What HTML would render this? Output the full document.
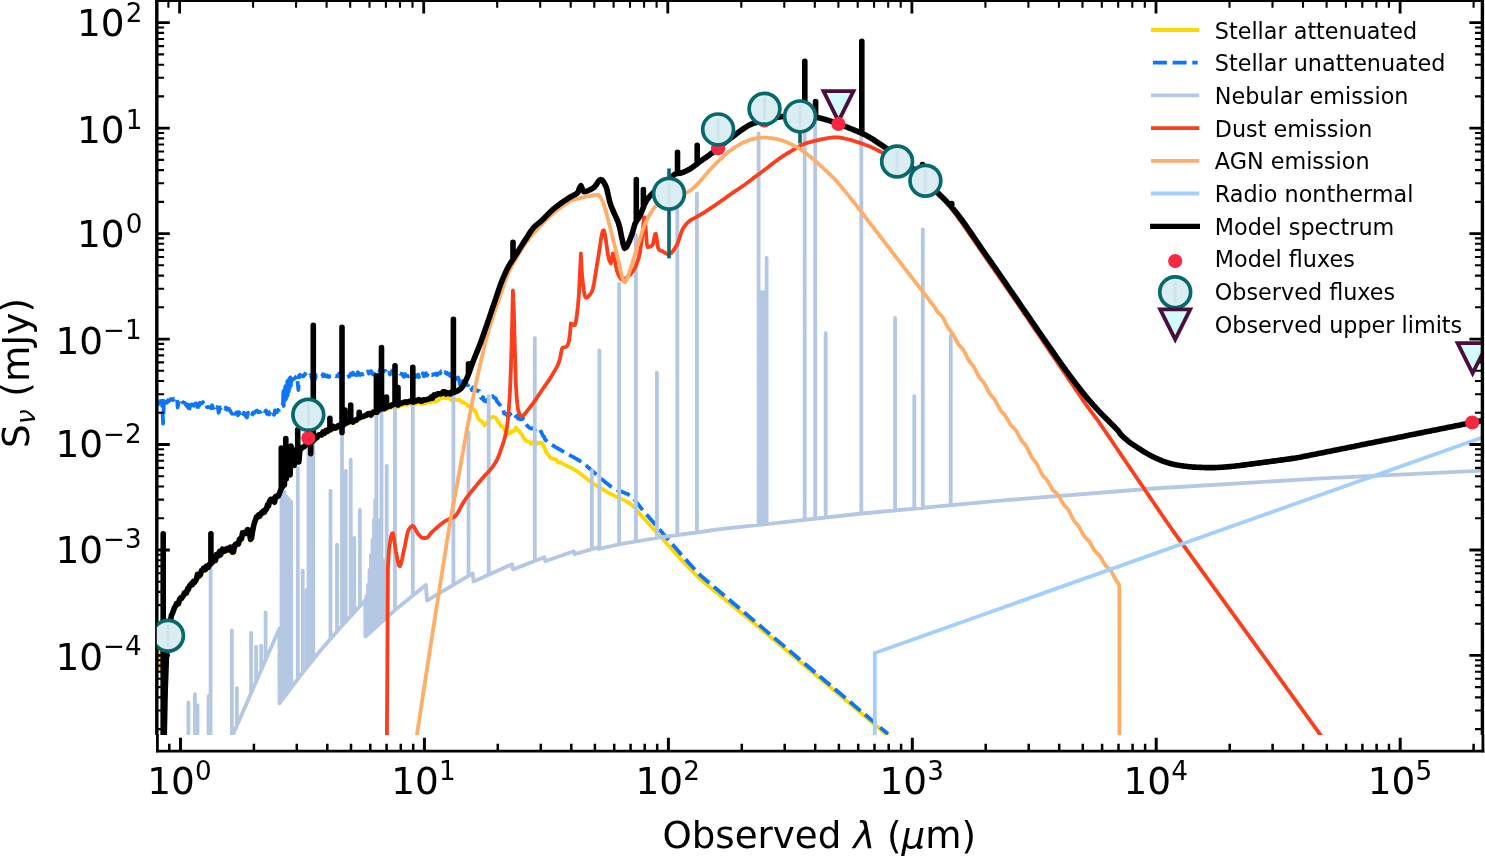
<!DOCTYPE html>
<html lang="en"><head><meta charset="utf-8"><title>SED</title><style>html,body{margin:0;padding:0;background:#fff;overflow:hidden}svg{display:block}</style></head><body>
<svg width="1485" height="856" viewBox="0 0 1485 856" font-family="'DejaVu Sans', 'Liberation Sans', sans-serif">
<rect width="1485" height="856" fill="#fff"/>
<defs><clipPath id="ax"><rect x="156.8" y="0.2" width="1325.6000000000001" height="734.8"/></clipPath></defs>
<g clip-path="url(#ax)" fill="none" stroke-linejoin="round" stroke-linecap="butt">
<path d="M160.0,650.0 L160.2,672.0" stroke="#FFD700" stroke-width="3.8"/>
<path d="M171.5,616.3 L172.5,614.6 L173.5,611.7 L174.5,608.8 L175.5,607.6 L176.5,604.9 L177.5,604.7 L178.5,605.0 L179.5,600.8 L180.5,599.2 L181.5,599.6 L182.5,598.2 L183.5,596.7 L184.5,594.1 L185.5,594.4 L186.5,594.3 L187.5,590.2 L188.5,590.4 L189.5,587.1 L190.5,586.8 L191.5,584.7 L192.5,585.7 L193.5,582.7 L194.5,583.6 L195.5,582.2 L196.5,580.4 L197.5,575.7 L198.5,577.5 L199.5,577.0 L200.5,575.9 L201.5,571.8 L202.5,571.8 L203.5,569.7 L204.5,569.0 L205.5,570.9 L206.5,567.3 L207.5,567.8 L208.5,568.4 L209.5,565.4 L210.5,565.2 L211.5,564.5 L212.5,563.4 L213.5,560.3 L214.5,561.0 L215.5,561.7 L216.5,555.8 L217.5,557.8 L218.5,555.2 L219.5,552.8 L220.5,556.1 L221.5,553.7 L222.5,550.4 L223.5,552.0 L224.5,552.4 L225.5,550.8 L226.5,551.5 L227.5,549.8 L228.5,550.4 L229.5,551.2 L230.5,548.4 L231.5,552.2 L232.5,553.4 L233.5,553.1 L234.5,547.0 L235.5,545.6 L236.5,545.0 L237.5,545.7 L238.5,545.1 L239.5,540.4 L240.5,539.8 L241.5,540.1 L242.5,534.2 L243.5,534.6 L244.5,533.7 L245.5,534.7 L246.5,533.0 L247.5,530.9 L248.5,531.2 L249.5,534.3 L250.5,540.6 L251.5,539.6 L252.5,533.0 L253.5,527.7 L254.5,523.8 L255.5,521.4 L256.5,518.2 L257.5,518.3 L258.5,516.3 L259.5,517.6 L260.5,515.8 L261.5,514.0 L262.5,514.3 L263.5,512.1 L264.5,513.3 L265.5,510.8 L266.5,510.4 L267.5,506.2 L268.5,507.1 L269.5,502.6 L270.5,500.8 L271.5,502.3 L272.5,500.5 L273.5,501.3 L274.5,503.5 L275.5,498.0 L276.5,497.4 L277.5,497.7 L278.5,497.0 L279.5,494.5 L280.5,491.7" stroke="#FFD700" stroke-width="3.8"/>
<path d="M300.5,451.0 L302.0,448.5 L303.5,448.1 L305.0,447.0 L306.5,445.1 L308.0,445.1 L309.5,443.3 L311.0,443.8 L312.5,442.1 L314.0,441.0 L315.5,439.3 L317.0,438.6 L318.5,436.0 L320.0,435.7 L321.5,435.9 L323.0,432.9 L324.5,434.3 L326.0,431.3 L327.5,432.4 L329.0,430.2 L330.5,430.7 L332.0,429.5 L333.5,427.5 L335.0,429.1 L336.5,428.6 L338.0,426.9 L339.5,426.2 L341.0,425.7 L342.5,424.5 L344.0,425.7 L345.5,423.9 L347.0,423.9 L348.5,422.9 L350.0,422.5 L351.5,421.5 L353.0,423.0 L354.5,421.2 L356.0,421.4 L357.5,420.0 L359.0,418.7 L360.5,418.4 L362.0,417.6 L363.5,417.5 L365.0,416.7 L366.5,416.3 L368.0,415.0 L369.5,414.9 L371.0,416.4 L372.5,414.0 L374.0,413.1 L375.5,413.6 L377.0,413.8 L378.5,410.9 L380.0,411.3 L381.5,410.4 L383.0,408.9 L384.5,410.3 L386.0,409.2 L387.5,408.7 L389.0,407.5 L390.5,408.0 L392.0,406.8 L393.5,406.8 L395.0,405.7 L396.5,405.3 L398.0,407.1 L399.5,405.3 L401.0,405.7 L402.5,405.2 L404.0,404.6 L405.5,404.3 L407.0,405.0 L408.5,404.0 L410.0,403.9 L411.5,403.9 L413.0,404.7 L414.5,404.2 L416.0,403.8 L417.5,403.0 L419.0,402.2 L420.0,402.5 L421.5,404.2 L423.0,403.9 L424.5,403.4 L426.0,403.4 L427.5,402.4 L429.0,401.6 L430.5,402.4 L432.0,401.4 L433.5,400.5 L435.0,401.8 L436.5,400.8 L438.0,400.6 L439.5,398.9 L441.0,398.6 L442.5,397.9 L444.0,397.6 L445.5,398.3 L447.0,397.5 L448.5,398.5 L450.0,398.7 L451.5,400.3 L453.0,397.9 L454.5,400.1 L456.0,399.7 L457.5,400.2 L459.0,399.6 L460.5,400.9 L462.0,402.4 L463.5,402.4 L465.0,403.3 L466.5,404.0 L468.0,406.2 L469.5,406.4 L471.0,405.9 L472.5,408.9 L474.0,410.1 L475.5,411.2 L477.0,415.4 L478.5,419.0 L480.0,420.2 L481.5,421.3 L483.0,423.0 L484.5,425.3 L486.0,424.0 L487.5,422.2 L489.0,419.9 L490.5,417.9 L492.0,417.2 L493.5,416.9 L495.0,417.7 L496.5,418.5 L498.0,422.0 L499.5,423.2 L501.0,426.4 L502.5,426.1 L504.0,428.8 L505.5,430.6 L507.0,430.8 L508.5,433.8 L510.0,433.5 L511.5,431.4 L513.0,431.6 L514.5,430.5 L516.0,427.5 L517.5,429.8 L519.0,430.8 L520.5,433.1 L522.0,434.7 L523.5,437.7 L525.0,439.4 L526.5,441.4 L528.0,441.6 L529.5,442.1 L531.0,443.9 L532.5,442.5 L534.0,442.7 L535.5,441.4 L537.0,443.8 L538.5,443.0 L540.0,442.8 L541.5,442.6 L543.0,444.1 L544.5,448.0 L546.0,451.6 L547.5,454.1 L549.0,455.8 L550.5,458.1 L552.0,458.4 L553.5,458.8 L555.0,459.2 L556.5,459.9 L558.0,462.5 L559.5,462.3 L561.0,462.7 L562.5,463.6 L564.0,464.3 L565.5,465.1 L567.0,465.8 L568.5,466.6 L570.0,467.3 L571.5,468.0 L573.0,468.8 L574.5,469.6 L576.0,470.5 L577.5,471.5 L579.0,472.6 L580.5,473.7 L582.0,474.9 L583.5,476.1 L585.0,477.3 L586.5,478.5 L588.0,479.6 L589.5,480.8 L591.0,481.9 L592.5,482.9 L594.0,483.9 L595.5,484.8 L597.0,485.8 L598.5,486.7 L600.0,487.7 L601.5,488.6 L603.0,489.5 L604.5,490.4 L606.0,491.2 L607.5,492.1 L609.0,492.9 L610.5,493.8 L612.0,494.6 L613.5,495.4 L615.0,496.1 L616.5,496.8 L618.0,497.5 L619.5,498.1 L621.0,498.8 L622.5,499.4 L624.0,500.1 L625.5,500.9 L627.0,501.7 L628.5,502.6 L630.0,503.6 L631.5,504.7 L633.0,506.1 L634.5,507.6 L636.0,509.3 L637.5,511.1 L639.0,512.9 L640.5,514.7 L642.0,516.4 L643.5,518.0 L645.0,519.6 L646.5,521.3 L648.0,522.9 L649.5,524.6 L651.0,526.2 L652.5,527.9 L654.0,529.5 L655.5,531.2 L657.0,532.8 L658.5,534.5 L660.0,536.1 L661.5,537.8 L663.0,539.4 L664.5,541.1 L666.0,542.8 L667.5,544.4 L669.0,546.1 L670.5,547.8 L672.0,549.5 L673.5,551.1 L675.0,552.8 L676.5,554.5 L678.0,556.1 L679.5,557.7 L681.0,559.4 L682.5,561.0 L684.0,562.6 L685.5,564.2 L687.0,565.7 L688.5,567.3 L690.0,568.9 L691.5,570.4 L693.0,571.9 L694.5,573.5 L696.0,575.0 L697.5,576.5 L699.0,578.0 L700.0,579.0 L760.0,628.2 L888.0,735.7" stroke="#FFD700" stroke-width="3.8"/>
<path d="M157.0,404.0 L158.0,404.5 L159.0,403.8 L160.0,401.2 L161.0,401.2 L162.0,400.7 L163.1,423.6 L164.0,401.0 L165.0,401.9 L166.0,398.4 L167.0,402.7 L168.0,400.3 L169.0,401.0 L170.0,399.7 L171.0,399.0 L172.0,399.8 L173.0,400.1 L174.0,398.6 L175.0,398.7 L176.0,400.0 L177.0,398.3 L177.7,407.5 L179.0,400.7 L180.0,399.8 L181.0,398.7 L182.0,400.9 L183.0,402.5 L184.0,402.7 L185.0,403.0 L186.0,405.0 L187.0,406.1 L188.0,404.6 L188.8,412.5 L190.0,405.2 L191.0,405.6 L192.0,404.2 L193.0,405.2 L194.0,405.8 L195.0,404.1 L196.0,403.3 L197.4,409.0 L198.0,404.7 L199.0,405.8 L200.0,402.7 L201.0,403.5 L202.0,403.3 L203.0,402.1 L204.0,404.6 L205.0,405.3 L206.0,404.0 L207.0,407.2 L208.0,406.9 L209.0,407.1 L210.0,407.2 L211.0,408.2 L212.0,405.3 L213.0,407.9 L214.0,407.9 L215.0,404.9 L216.0,407.7 L217.0,406.9 L218.0,408.3 L218.6,412.8 L220.0,407.4 L221.0,407.9 L222.0,406.4 L223.0,408.4 L224.0,407.6 L225.0,408.6 L226.0,407.4 L227.0,409.7 L228.0,409.4 L229.0,408.8 L230.0,410.6 L231.0,412.2 L232.0,413.7 L233.0,410.1 L234.0,413.8 L235.0,413.7 L236.0,413.2 L237.0,412.2 L238.0,415.3 L239.0,412.1 L240.0,414.6 L241.0,415.7 L242.0,412.1 L243.0,413.9 L244.0,412.7 L245.0,414.9 L246.0,416.6 L247.0,417.4 L248.0,412.6 L249.0,414.2 L250.0,415.9 L251.0,417.1 L252.0,415.2 L253.0,412.8 L254.0,413.1 L255.0,411.8 L256.0,411.2 L257.0,410.6 L258.0,412.2 L259.0,412.2 L260.0,411.9 L261.0,411.9 L262.0,410.7 L263.0,411.8 L264.0,414.1 L265.0,412.2 L266.0,410.5 L267.0,413.9 L268.0,412.6 L269.0,414.5 L270.0,411.7 L271.0,410.9 L272.0,409.6 L273.0,413.2 L274.0,414.8 L275.0,410.4 L276.0,410.7 L277.0,412.2 L278.0,409.9 L279.0,409.9 L280.0,408.8 L281.0,408.9 L282.0,408.5 L283.0,402.8 L283.3,391.5 L283.7,406.0 L284.0,397.8 L284.3,390.0 L284.7,400.5 L285.0,399.6 L285.3,386.2 L285.7,399.5 L286.0,398.9 L286.3,385.1 L286.7,397.2 L287.0,394.8 L287.3,381.1 L287.7,395.0 L288.0,391.6 L288.3,378.7 L288.7,391.8 L289.0,389.2 L289.3,378.7 L289.7,389.5 L290.0,386.4 L290.3,377.4 L290.7,388.7 L291.0,382.4 L292.0,379.4 L293.0,379.6 L294.0,378.4 L295.0,378.4 L296.0,376.7 L297.0,375.8 L298.4,390.0 L299.0,375.8 L300.0,374.8 L301.0,375.5 L302.0,376.1 L303.0,376.5 L304.0,375.8 L305.0,373.7 L306.0,376.2 L307.0,376.6 L308.0,377.7 L309.0,377.1 L310.0,375.5 L311.0,375.5 L312.0,379.0 L313.0,377.4 L314.0,378.8 L315.0,379.1 L316.0,375.3 L317.0,376.8 L318.0,376.9 L319.0,377.0 L320.0,377.0 L321.0,376.5 L322.0,376.4 L323.0,374.2 L324.0,375.9 L325.0,375.1 L326.0,376.2 L327.0,375.4 L328.0,376.8 L329.0,377.0 L330.0,376.3 L331.0,376.2 L332.0,375.9 L333.0,375.2 L334.0,375.5 L335.0,375.0 L336.0,376.2 L337.0,375.6 L338.0,376.3 L339.0,373.8 L340.0,376.6 L341.0,374.4 L342.0,374.4 L343.0,375.1 L344.0,374.6 L345.0,375.6 L346.0,374.4 L347.0,373.7 L348.0,374.0 L349.0,376.7 L350.0,375.0 L351.0,373.4 L352.0,374.8 L353.0,372.7 L354.0,377.0 L355.0,372.5 L356.0,375.0 L357.0,375.0 L358.0,372.2 L359.0,374.3 L360.0,375.1 L361.0,374.2 L362.0,373.8 L363.0,374.5 L364.0,373.4 L365.0,373.4 L366.0,372.7 L367.0,373.6 L368.0,371.4 L369.0,373.6 L370.0,371.8 L371.0,371.0 L372.0,372.9 L373.0,374.6 L374.0,373.7 L375.0,371.7 L376.0,373.3 L377.0,371.9 L378.0,372.3 L379.0,372.6 L380.0,369.5 L381.0,372.8 L382.0,371.3 L383.0,371.8 L384.0,370.8 L385.0,370.8 L386.0,371.6 L387.0,374.0 L388.0,375.1 L389.0,373.0 L390.0,374.5 L391.0,372.8 L392.0,370.7 L393.0,373.4 L394.0,373.9 L395.0,372.8 L396.0,373.9 L397.0,374.3 L398.0,372.6 L399.0,371.9 L400.0,373.7 L401.0,373.8 L402.0,373.8 L403.0,375.7 L404.0,376.8 L405.0,374.1 L406.0,375.7 L407.0,376.1 L408.0,375.9 L409.0,376.4 L410.0,374.6 L411.0,376.1 L412.0,377.8 L413.0,376.2 L414.0,374.4 L415.0,376.0 L416.0,376.8 L417.0,375.6 L418.0,374.4 L419.0,377.1 L420.0,373.4 L421.0,375.6 L422.0,374.9 L423.0,373.3 L424.0,376.4 L425.0,375.2 L426.0,373.2 L427.0,375.4 L428.0,374.0 L429.0,372.0 L430.0,373.5 L431.0,374.7 L432.0,375.1 L433.0,374.4 L434.0,374.2 L435.0,374.6 L436.0,373.5 L437.0,375.1 L438.0,373.6 L439.0,373.5 L440.0,373.7 L441.0,371.4 L442.0,371.7 L443.0,374.5 L444.0,372.9 L445.0,372.2 L446.0,373.3 L447.0,372.8 L448.0,374.4 L449.0,373.9 L450.0,375.8 L451.0,374.1 L452.0,378.5 L453.0,376.5 L454.0,375.5 L455.0,377.7 L456.0,377.8 L457.0,378.8 L458.0,377.5 L459.0,379.9 L460.0,384.5 L461.0,378.6 L462.0,381.3 L463.0,381.2 L464.0,382.5 L465.0,380.7 L466.0,382.3 L467.0,385.2 L468.0,385.3 L469.0,388.2 L470.0,386.1 L471.0,387.4 L472.0,390.4 L473.0,387.5 L474.0,387.8 L475.0,389.0 L476.0,389.4 L477.0,390.8 L478.0,390.8 L479.0,390.8 L480.0,393.3 L481.0,397.6 L482.0,398.7 L483.0,397.1 L484.0,400.8 L485.0,400.4 L486.0,401.4 L487.0,400.0 L488.0,401.1 L489.0,399.3 L490.0,398.3 L491.0,396.9 L492.0,396.2 L493.0,396.4 L494.0,397.7 L495.0,398.0 L496.0,398.6 L497.0,401.7 L498.0,402.4 L499.0,403.9 L500.0,404.8 L501.0,406.7 L502.0,408.5 L503.0,408.4 L504.0,413.3 L505.0,413.9 L506.0,413.8 L507.0,415.5 L508.0,415.4 L509.0,415.8 L510.0,413.6 L511.0,415.9 L512.0,416.9 L513.0,418.2 L514.0,418.7 L515.0,418.6 L516.0,416.5 L517.0,415.8 L518.0,418.5 L519.0,418.2 L520.0,419.3 L521.0,418.5 L522.0,419.2 L523.0,418.0 L524.0,420.5 L525.0,421.1 L526.0,423.6 L527.0,425.4 L528.0,426.4 L529.0,427.7 L530.0,427.8 L531.0,428.7 L532.0,428.7 L533.0,427.8 L534.0,427.9 L535.0,430.1 L536.0,428.6 L537.0,429.8 L538.0,429.4 L539.0,428.9 L540.0,429.3 L541.0,431.6 L542.0,433.6 L543.0,436.1 L544.0,436.5 L545.0,439.3 L546.0,440.3 L547.0,441.2 L548.0,442.1 L549.0,442.9 L550.0,443.7 L551.0,444.4 L552.0,445.0 L553.0,445.6 L554.0,446.2 L555.0,446.8 L556.0,447.4 L557.0,447.9 L558.0,448.5 L559.0,449.0 L560.0,449.6 L561.0,450.2 L562.0,450.8 L563.0,451.4 L564.0,452.0 L565.0,452.6 L566.0,453.1 L567.0,453.7 L568.0,454.2 L569.0,454.8 L570.0,455.3 L571.0,455.9 L572.0,456.4 L573.0,456.9 L574.0,457.5 L575.0,458.1 L576.0,458.6 L577.0,459.2 L578.0,459.8 L579.0,460.4 L580.0,461.1 L581.0,461.7 L582.0,462.4 L583.0,463.1 L584.0,463.9 L585.0,464.7 L586.0,465.5 L587.0,466.3 L588.0,467.2 L589.0,468.0 L590.0,468.9 L591.0,469.8 L592.0,470.7 L593.0,471.6 L594.0,472.5 L595.0,473.4 L596.0,474.3 L597.0,475.2 L598.0,476.1 L599.0,477.0 L600.0,477.8 L601.0,478.7 L602.0,479.5 L603.0,480.3 L604.0,481.1 L605.0,481.9 L606.0,482.7 L607.0,483.5 L608.0,484.3 L609.0,485.1 L610.0,485.9 L611.0,486.6 L612.0,487.3 L613.0,487.9 L614.0,488.5 L615.0,489.0 L616.0,489.5 L617.0,490.0 L618.0,490.4 L619.0,490.8 L620.0,491.1 L621.0,491.5 L622.0,491.8 L623.0,492.2 L624.0,492.6 L625.0,493.0 L626.0,493.4 L627.0,493.8 L628.0,494.3 L629.0,494.9 L630.0,495.5 L631.0,496.2 L632.0,497.0 L633.0,498.0 L634.0,499.1 L635.0,500.3 L636.0,501.5 L637.0,502.8 L638.0,504.1 L639.0,505.4 L640.0,506.7 L641.0,508.0 L642.0,509.2 L643.0,510.4 L644.0,511.5 L645.0,512.7 L646.0,513.9 L647.0,515.0 L648.0,516.2 L649.0,517.3 L650.0,518.5 L651.0,519.6 L652.0,520.8 L653.0,521.9 L654.0,523.1 L655.0,524.2 L656.0,525.4 L657.0,526.5 L658.0,527.7 L659.0,528.9 L660.0,530.0 L661.0,531.2 L662.0,532.3 L663.0,533.5 L664.0,534.6 L665.0,535.8 L666.0,536.9 L667.0,538.1 L668.0,539.2 L669.0,540.4 L670.0,541.6 L671.0,542.7 L672.0,543.9 L673.0,545.0 L674.0,546.2 L675.0,547.3 L676.0,548.5 L677.0,549.6 L678.0,550.8 L679.0,551.9 L680.0,553.0 L681.0,554.2 L682.0,555.3 L683.0,556.4 L684.0,557.5 L685.0,558.7 L686.0,559.8 L687.0,560.9 L688.0,562.0 L689.0,563.1 L690.0,564.2 L691.0,565.3 L692.0,566.4 L693.0,567.5 L694.0,568.5 L695.0,569.6 L696.0,570.7 L697.0,571.8 L698.0,572.9 L699.0,573.9 L700.0,575.0 L888.0,734.0" stroke="#0d75f8" stroke-width="3.8" stroke-dasharray="14 5.8"/>
<path d="M231.9,737.0 L279.4,628.5 L279.5,703.3 L300.0,676.0 L320.0,651.0 L340.0,628.0 L365.3,600.2 L365.4,636.6 L395.0,610.0 L425.9,585.0 L427.0,600.7 L472.6,573.4 L473.6,581.5 L512.0,564.3 L513.0,569.4 L544.3,557.2 L545.3,561.3 L573.6,551.2 L574.6,554.2 L597.9,547.5 L598.5,549.0 L620.1,544.1 L662.6,537.0 L700.0,532.0 L720.0,529.2 L861.7,513.5 L1000.0,500.7 L1153.4,488.5 L1321.7,478.4 L1484.0,470.5 M188.4,737.0 L188.4,702.3 L188.41,737.0 M194.9,737.0 L194.9,694.2 L194.91,737.0 M197.5,737.0 L197.5,705.3 L197.51,737.0 M208.6,737.0 L208.6,696.2 L208.61,737.0 M210.6,737.0 L210.6,563.0 L210.61,737.0 M231.9,737.0 L231.9,630.5 L231.91,737.0 M236.9,725.6 L236.9,688.0 L236.91,725.6 M251.1,693.1 L251.1,633.0 L251.11,693.1 M256.1,681.7 L256.1,646.7 L256.11,681.7 M261.2,670.1 L261.2,645.7 L261.21,670.1 M265.6,660.0 L265.6,612.3 L265.61,660.0 M281.5,700.6 L281.5,490.0 L281.51,700.6 M283.0,698.6 L283.0,495.0 L283.01,698.6 M284.5,696.6 L284.5,492.0 L284.51,696.6 M286.0,694.6 L286.0,496.0 L286.01,694.6 M287.6,692.5 L287.6,498.0 L287.61,692.5 M289.2,690.4 L289.2,500.0 L289.21,690.4 M291.2,687.7 L291.2,502.0 L291.21,687.7 M297.8,678.9 L297.8,467.8 L297.81,678.9 M302.7,672.6 L302.7,570.7 L302.71,672.6 M306.6,667.8 L306.6,590.0 L306.61,667.8 M308.5,665.4 L308.5,450.0 L308.51,665.4 M310.0,663.5 L310.0,446.0 L310.01,663.5 M311.5,661.6 L311.5,444.0 L311.51,661.6 M313.3,659.4 L313.3,440.0 L313.31,659.4 M330.5,638.9 L330.5,490.7 L330.51,638.9 M337.0,631.5 L337.0,544.6 L337.01,631.5 M342.0,625.8 L342.0,428.0 L342.01,625.8 M345.8,621.6 L345.8,471.0 L345.81,621.6 M350.7,616.2 L350.7,459.6 L350.71,616.2 M354.3,612.3 L354.3,538.0 L354.31,612.3 M359.9,606.1 L359.9,510.0 L359.91,606.1 M366.5,635.6 L366.5,596.0 L366.51,635.6 M368.0,634.3 L368.0,585.0 L368.01,634.3 M369.5,632.9 L369.5,570.0 L369.51,632.9 M371.0,631.6 L371.0,555.0 L371.01,631.6 M372.5,630.2 L372.5,540.0 L372.51,630.2 M374.0,628.9 L374.0,520.0 L374.01,628.9 M375.2,627.8 L375.2,500.0 L375.21,627.8 M376.4,626.7 L376.4,380.0 L376.41,626.7 M378.0,625.3 L378.0,520.0 L378.01,625.3 M379.5,623.9 L379.5,540.0 L379.51,623.9 M381.5,622.1 L381.5,350.0 L381.51,622.1 M383.0,620.8 L383.0,560.0 L383.01,620.8 M386.7,617.5 L386.7,466.0 L386.71,617.5 M395.0,610.0 L395.0,368.0 L395.01,610.0 M412.8,595.6 L412.8,369.0 L412.81,595.6 M453.4,584.9 L453.4,395.0 L453.41,584.9 M468.5,575.9 L468.5,432.5 L468.51,575.9 M488.7,574.7 L488.7,396.1 L488.71,574.7 M534.8,560.9 L534.8,338.1 L534.81,560.9 M591.8,549.3 L591.8,470.3 L591.81,549.3 M599.4,548.8 L599.4,350.4 L599.41,548.8 M619.1,544.3 L619.1,283.8 L619.11,544.3 M635.9,541.5 L635.9,235.0 L635.91,541.5 M656.9,538.0 L656.9,372.6 L656.91,538.0 M677.3,535.0 L677.3,210.0 L677.31,535.0 M696.9,532.4 L696.9,193.5 L696.91,532.4 M758.6,524.9 L758.6,133.3 L758.61,524.9 M760.3,524.7 L760.3,292.2 L760.31,524.7 M762.0,524.5 L762.0,292.2 L762.01,524.5 M763.7,524.4 L763.7,292.2 L763.71,524.4 M765.2,524.2 L765.2,292.2 L765.21,524.2 M766.6,524.0 L766.6,257.8 L766.61,524.0 M804.7,519.8 L804.7,65.0 L804.71,519.8 M815.2,518.7 L815.2,103.0 L815.21,518.7 M825.7,517.5 L825.7,333.2 L825.71,517.5 M861.3,513.5 L861.3,45.0 L861.31,513.5 M895.1,510.4 L895.1,317.9 L895.11,510.4 M914.3,508.6 L914.3,396.2 L914.31,508.6 M922.8,507.8 L922.8,229.5 L922.81,507.8 M950.7,505.3 L950.7,335.6 L950.71,505.3" stroke="#b4c7e3" stroke-width="3.8" stroke-linejoin="round" stroke-linecap="butt"/>
<path d="M386.9,737.0 L387.9,567.7 L388.9,550.9 L389.9,543.1 L390.9,537.2 L391.9,533.8 L392.9,533.3 L393.9,537.8 L394.9,545.0 L395.9,551.5 L396.9,556.6 L397.9,561.7 L398.9,565.4 L399.9,566.2 L400.9,564.0 L401.9,559.9 L402.9,555.0 L403.9,550.4 L404.9,545.8 L405.9,540.5 L406.9,535.3 L407.9,531.4 L408.9,529.4 L409.9,528.0 L410.9,526.9 L411.9,526.1 L412.9,525.9 L413.9,526.7 L414.9,528.3 L415.9,530.3 L416.9,532.2 L417.9,533.5 L418.9,534.7 L419.9,535.9 L420.9,537.0 L421.9,537.7 L422.9,538.0 L423.9,538.0 L424.9,538.0 L425.9,538.0 L426.9,537.7 L427.9,537.0 L428.9,535.8 L429.9,534.5 L430.9,533.2 L431.9,532.1 L432.9,531.2 L433.9,530.3 L434.9,529.4 L435.9,528.5 L436.9,527.6 L437.9,526.8 L438.9,525.9 L439.9,525.1 L440.9,524.3 L441.9,523.6 L442.9,522.8 L443.9,522.0 L444.9,521.3 L445.9,520.6 L446.9,520.1 L447.9,519.6 L448.9,519.1 L449.9,518.8 L450.9,518.4 L451.9,518.1 L452.9,517.6 L453.9,517.1 L454.9,516.4 L455.9,515.4 L456.9,514.0 L457.9,512.4 L458.9,510.7 L459.9,508.8 L460.9,506.9 L461.9,505.0 L462.9,503.2 L463.9,501.5 L464.9,500.0 L465.9,498.6 L466.9,497.3 L467.9,496.0 L468.9,494.7 L469.9,493.4 L470.9,492.2 L471.9,490.9 L472.9,489.7 L473.9,488.5 L474.9,487.3 L475.9,486.1 L476.9,484.9 L477.9,483.7 L478.9,482.5 L479.9,481.3 L480.9,480.0 L481.9,478.8 L482.9,477.7 L483.9,476.6 L484.9,475.5 L485.9,474.4 L486.9,473.4 L487.9,472.3 L488.9,471.2 L489.9,470.1 L490.9,468.9 L491.9,467.6 L492.9,466.3 L493.9,464.9 L494.9,463.4 L495.9,461.8 L496.9,460.0 L497.9,457.9 L498.9,455.4 L499.9,452.6 L500.9,449.7 L501.9,446.8 L502.9,443.9 L503.9,440.8 L504.9,437.2 L505.9,432.9 L506.9,427.5 L507.9,419.6 L508.9,408.0 L509.9,392.7 L510.9,368.3 L511.9,333.9 L512.9,290.5 L513.9,312.6 L514.9,351.1 L515.9,385.1 L516.9,400.3 L517.9,408.9 L518.9,412.5 L519.9,415.1 L520.9,416.3 L521.9,416.2 L522.9,415.6 L523.9,414.8 L524.9,413.8 L525.9,412.5 L526.9,411.2 L527.9,409.9 L528.9,408.7 L529.9,407.5 L530.9,406.2 L531.9,404.9 L532.9,403.6 L533.9,402.1 L534.9,400.7 L535.9,399.2 L536.9,397.7 L537.9,396.2 L538.9,394.7 L539.9,393.2 L540.9,391.7 L541.9,390.2 L542.9,388.8 L543.9,387.4 L544.9,385.9 L545.9,384.5 L546.9,383.1 L547.9,381.6 L548.9,380.1 L549.9,378.6 L550.9,377.1 L551.9,375.4 L552.9,373.8 L553.9,372.0 L554.9,370.4 L555.9,368.6 L556.9,366.8 L557.9,364.7 L558.9,362.3 L559.9,359.2 L560.9,353.8 L561.9,348.8 L562.9,347.5 L563.9,347.3 L564.9,347.2 L565.9,347.0 L566.9,346.3 L567.9,344.5 L568.9,341.5 L569.9,334.5 L570.9,323.4 L571.9,323.9 L572.9,324.6 L573.9,325.2 L574.9,325.2 L575.9,321.5 L576.9,314.7 L577.9,306.4 L578.9,293.9 L579.9,274.6 L580.9,253.5 L581.9,273.8 L582.9,283.3 L583.9,291.0 L584.9,296.1 L585.9,297.8 L586.9,297.5 L587.9,296.9 L588.9,295.9 L589.9,294.7 L590.9,293.2 L591.9,291.5 L592.9,288.5 L593.9,283.8 L594.9,278.0 L595.9,271.6 L596.9,265.2 L597.9,259.4 L598.9,253.4 L599.9,246.5 L600.9,239.7 L601.9,234.1 L602.9,230.6 L603.9,230.4 L604.9,234.0 L605.9,240.3 L606.9,247.6 L607.9,254.4 L608.9,259.1 L609.9,261.8 L610.9,263.4 L611.9,259.1 L612.9,253.4 L613.9,255.2 L614.9,260.3 L615.9,266.3 L616.9,270.9 L617.9,273.4 L618.9,275.7 L619.9,277.6 L620.9,279.0 L621.9,279.6 L622.9,279.5 L623.9,279.2 L624.9,278.8 L625.9,278.2 L626.9,277.4 L627.9,276.6 L628.9,275.7 L629.9,274.8 L630.9,273.8 L631.9,272.6 L632.9,271.3 L633.9,269.7 L634.9,267.8 L635.9,265.7 L636.9,263.3 L637.9,260.6 L638.9,257.3 L639.9,252.3 L640.9,246.1 L641.9,238.9 L642.9,229.8 L643.9,217.3 L644.9,217.3 L645.9,231.1 L646.9,244.8 L647.9,247.2 L648.9,247.0 L649.9,246.7 L650.9,246.2 L651.9,245.6 L652.9,244.4 L653.9,239.4 L654.9,234.3 L655.9,233.8 L656.9,240.1 L657.9,247.3 L658.9,249.6 L659.9,250.3 L660.9,250.7 L661.9,251.0 L662.9,251.5 L663.9,252.1 L664.9,252.7 L665.9,253.4 L666.9,253.9 L667.9,254.2 L668.9,254.3 L669.9,254.0 L670.9,253.3 L671.9,252.3 L672.9,251.1 L673.9,249.6 L674.9,248.1 L675.9,246.5 L676.9,244.9 L677.9,242.6 L678.9,239.8 L679.9,236.7 L680.9,233.6 L681.9,230.9 L682.9,228.8 L683.9,227.2 L684.9,225.8 L685.9,224.5 L686.9,223.3 L687.9,222.3 L688.9,221.4 L689.9,220.7 L690.9,220.0 L691.9,219.5 L692.9,218.9 L693.9,218.4 L694.9,217.9 L695.9,217.3 L696.9,216.7 L697.9,216.1 L698.9,215.5 L699.9,215.0 L700.9,214.4 L701.9,213.8 L702.9,213.3 L703.0,213.2 L704.0,212.5 L705.0,211.9 L706.0,211.2 L707.0,210.6 L708.0,209.9 L709.0,209.3 L710.0,208.6 L711.0,207.9 L712.0,207.3 L713.0,206.6 L714.0,205.9 L715.0,205.2 L716.0,204.5 L717.0,203.9 L718.0,203.2 L719.0,202.5 L720.0,201.8 L721.0,201.1 L722.0,200.4 L723.0,199.7 L724.0,199.0 L725.0,198.3 L726.0,197.6 L727.0,196.8 L728.0,196.1 L729.0,195.4 L730.0,194.7 L731.0,194.0 L732.0,193.3 L733.0,192.6 L734.0,192.0 L735.0,191.3 L736.0,190.6 L737.0,190.0 L738.0,189.3 L739.0,188.6 L740.0,188.0 L741.0,187.3 L742.0,186.6 L743.0,185.9 L744.0,185.2 L745.0,184.5 L746.0,183.8 L747.0,183.0 L748.0,182.3 L749.0,181.5 L750.0,180.7 L751.0,180.0 L752.0,179.2 L753.0,178.4 L754.0,177.6 L755.0,176.9 L756.0,176.2 L757.0,175.4 L758.0,174.7 L759.0,174.0 L760.0,173.2 L761.0,172.5 L762.0,171.8 L763.0,171.0 L764.0,170.3 L765.0,169.5 L766.0,168.7 L767.0,168.0 L768.0,167.2 L769.0,166.4 L770.0,165.6 L771.0,164.9 L772.0,164.1 L773.0,163.3 L774.0,162.6 L775.0,161.8 L776.0,161.0 L777.0,160.3 L778.0,159.6 L779.0,158.8 L780.0,158.1 L781.0,157.4 L782.0,156.7 L783.0,156.1 L784.0,155.4 L785.0,154.8 L786.0,154.2 L787.0,153.6 L788.0,153.0 L789.0,152.4 L790.0,151.8 L791.0,151.2 L792.0,150.6 L793.0,150.0 L794.0,149.4 L795.0,148.8 L796.0,148.2 L797.0,147.6 L798.0,147.0 L799.0,146.5 L800.0,145.9 L801.0,145.4 L802.0,144.8 L803.0,144.4 L804.0,144.0 L805.0,143.6 L806.0,143.2 L807.0,142.9 L808.0,142.6 L809.0,142.3 L810.0,142.1 L811.0,141.8 L812.0,141.6 L813.0,141.3 L814.0,141.1 L815.0,140.8 L816.0,140.6 L817.0,140.3 L818.0,140.1 L819.0,139.9 L820.0,139.6 L821.0,139.4 L822.0,139.2 L823.0,139.0 L824.0,138.8 L825.0,138.6 L826.0,138.4 L827.0,138.3 L828.0,138.1 L829.0,137.9 L830.0,137.8 L831.0,137.7 L832.0,137.5 L833.0,137.4 L834.0,137.4 L835.0,137.3 L836.0,137.3 L837.0,137.3 L838.0,137.4 L839.0,137.5 L840.0,137.6 L841.0,137.8 L842.0,137.9 L843.0,138.1 L844.0,138.3 L845.0,138.5 L846.0,138.8 L847.0,139.0 L848.0,139.3 L849.0,139.5 L850.0,139.8 L851.0,140.1 L852.0,140.4 L853.0,140.7 L854.0,141.0 L855.0,141.3 L856.0,141.7 L857.0,142.0 L858.0,142.3 L859.0,142.6 L860.0,142.9 L861.0,143.3 L862.0,143.6 L863.0,143.9 L864.0,144.3 L865.0,144.7 L866.0,145.0 L867.0,145.4 L868.0,145.8 L869.0,146.2 L870.0,146.6 L871.0,147.0 L872.0,147.5 L873.0,148.0 L874.0,148.4 L875.0,148.9 L876.0,149.4 L877.0,149.9 L878.0,150.5 L879.0,151.0 L880.0,151.5 L881.0,152.0 L882.0,152.4 L883.0,152.9 L884.0,153.4 L885.0,153.8 L886.0,154.2 L887.0,154.6 L888.0,155.1 L889.0,155.5 L890.0,155.9 L891.0,156.3 L892.0,156.7 L893.0,157.1 L894.0,157.6 L895.0,158.0 L896.0,158.5 L897.0,159.0 L898.0,159.5 L899.0,160.1 L900.0,160.7 L901.0,161.3 L902.0,162.0 L903.0,162.7 L904.0,163.5 L905.0,164.2 L906.0,165.0 L907.0,165.9 L908.0,166.7 L909.0,167.6 L910.0,168.5 L911.0,169.4 L912.0,170.3 L913.0,171.2 L914.0,172.2 L915.0,173.1 L916.0,174.0 L917.0,175.0 L918.0,175.9 L919.0,176.9 L920.0,177.8 L921.0,178.8 L922.0,179.7 L923.0,180.7 L924.0,181.7 L925.0,182.6 L926.0,183.6 L927.0,184.5 L928.0,185.4 L929.0,186.4 L930.0,187.3 L931.0,188.2 L932.0,189.1 L933.0,189.9 L934.0,190.8 L935.0,191.7 L936.0,192.6 L937.0,193.5 L938.0,194.4 L939.0,195.3 L940.0,196.3 L941.0,197.2 L942.0,198.2 L943.0,199.2 L944.0,200.2 L945.0,201.2 L946.0,202.3 L947.0,203.4 L948.0,204.5 L949.0,205.7 L950.0,206.9 L951.0,208.1 L952.0,209.4 L953.0,210.7 L954.0,212.0 L955.0,213.4 L956.0,214.7 L957.0,216.1 L958.0,217.5 L959.0,218.9 L960.0,220.3 L961.0,221.7 L962.0,223.1 L963.0,224.5 L964.0,225.9 L965.0,227.4 L966.0,228.8 L967.0,230.3 L968.0,231.7 L969.0,233.1 L970.0,234.6 L971.0,236.1 L972.0,237.5 L973.0,239.0 L974.0,240.4 L975.0,241.9 L976.0,243.4 L977.0,244.8 L978.0,246.3 L979.0,247.8 L980.0,249.2 L981.0,250.7 L982.0,252.1 L983.0,253.6 L984.0,255.1 L985.0,256.5 L986.0,257.9 L987.0,259.4 L988.0,260.8 L989.0,262.3 L990.0,263.7 L991.0,265.2 L992.0,266.6 L993.0,268.1 L994.0,269.5 L995.0,270.9 L996.0,272.4 L997.0,273.8 L998.0,275.3 L999.0,276.7 L1000.0,278.1 L1001.0,279.6 L1002.0,281.0 L1003.0,282.5 L1004.0,283.9 L1005.0,285.4 L1006.0,286.8 L1007.0,288.3 L1008.0,289.7 L1009.0,291.2 L1010.0,292.6 L1011.0,294.1 L1012.0,295.5 L1013.0,297.0 L1014.0,298.4 L1015.0,299.9 L1016.0,301.3 L1017.0,302.8 L1018.0,304.3 L1019.0,305.7 L1020.0,307.2 L1021.0,308.7 L1022.0,310.2 L1023.0,311.6 L1024.0,313.1 L1025.0,314.6 L1026.0,316.0 L1027.0,317.5 L1028.0,319.0 L1029.0,320.5 L1030.0,322.0 L1031.0,323.4 L1032.0,324.9 L1033.0,326.4 L1034.0,327.9 L1035.0,329.4 L1036.0,330.9 L1037.0,332.3 L1038.0,333.8 L1039.0,335.3 L1040.0,336.8 L1041.0,338.3 L1042.0,339.8 L1043.0,341.2 L1044.0,342.7 L1045.0,344.2 L1046.0,345.7 L1047.0,347.2 L1048.0,348.6 L1049.0,350.1 L1050.0,351.6 L1051.0,353.1 L1052.0,354.6 L1053.0,356.0 L1054.0,357.5 L1055.0,359.0 L1056.0,360.5 L1057.0,361.9 L1058.0,363.4 L1059.0,364.9 L1060.0,366.4 L1061.0,367.8 L1062.0,369.3 L1063.0,370.8 L1064.0,372.2 L1065.0,373.7 L1066.0,375.2 L1067.0,376.7 L1068.0,378.1 L1069.0,379.6 L1070.0,381.1 L1071.0,382.5 L1072.0,384.0 L1073.0,385.5 L1074.0,386.9 L1075.0,388.4 L1076.0,389.9 L1077.0,391.3 L1078.0,392.8 L1079.0,394.3 L1080.0,395.7 L1081.0,397.2 L1082.0,398.7 L1083.0,400.1 L1084.0,401.6 L1085.0,403.0 L1086.0,404.5 L1087.0,405.9 L1088.0,407.3 L1089.0,408.7 L1090.0,410.1 L1091.0,411.4 L1092.0,412.7 L1093.0,414.0 L1094.0,415.3 L1095.0,416.7 L1096.0,418.0 L1097.0,419.4 L1098.0,420.7 L1099.0,422.1 L1100.0,423.6 L1101.0,425.1 L1102.0,426.5 L1103.0,428.0 L1104.0,429.5 L1105.0,431.0 L1106.0,432.4 L1107.0,433.9 L1108.0,435.4 L1109.0,436.9 L1110.0,438.3 L1111.0,439.8 L1112.0,441.3 L1113.0,442.8 L1114.0,444.2 L1115.0,445.7 L1116.0,447.2 L1117.0,448.7 L1118.0,450.2 L1119.0,451.6 L1120.0,453.1 L1121.0,454.6 L1122.0,456.1 L1123.0,457.5 L1124.0,459.0 L1125.0,460.5 L1126.0,462.0 L1127.0,463.5 L1128.0,464.9 L1129.0,466.4 L1130.0,467.9 L1131.0,469.4 L1132.0,470.8 L1133.0,472.3 L1134.0,473.8 L1135.0,475.3 L1136.0,476.7 L1137.0,478.2 L1138.0,479.7 L1139.0,481.2 L1140.0,482.6 L1141.0,484.1 L1142.0,485.6 L1143.0,487.0 L1144.0,488.5 L1145.0,490.0 L1146.0,491.5 L1147.0,492.9 L1148.0,494.4 L1149.0,495.9 L1150.0,497.4 L1151.0,498.8 L1152.0,500.3 L1153.0,501.8 L1154.0,503.2 L1155.0,504.7 L1156.0,506.2 L1157.0,507.7 L1158.0,509.1 L1159.0,510.6 L1160.0,512.1 L1161.0,513.5 L1162.0,515.0 L1163.0,516.5 L1164.0,517.9 L1165.0,519.4 L1166.0,520.8 L1167.0,522.3 L1168.0,523.7 L1169.0,525.1 L1170.0,526.6 L1171.0,528.0 L1171.9,529.3 L1322.0,737.0" stroke="#fb3f1c" stroke-width="3.8"/>
<path d="M416.6,737.0 L418.1,727.1 L419.6,717.3 L421.1,707.5 L422.6,697.6 L424.1,687.9 L425.6,678.1 L427.1,668.4 L428.6,658.6 L430.1,648.9 L431.6,639.2 L433.1,629.5 L434.6,619.9 L436.1,610.3 L437.6,600.7 L439.1,591.2 L440.6,581.8 L442.1,572.4 L443.6,563.0 L445.1,553.5 L446.6,543.9 L448.1,534.3 L449.6,525.0 L451.1,516.3 L452.6,507.9 L454.1,499.9 L455.6,492.0 L457.1,484.2 L458.6,476.2 L460.1,467.9 L461.6,459.5 L463.1,451.0 L464.6,442.6 L466.1,434.2 L467.6,426.1 L469.1,418.2 L470.6,410.5 L472.1,402.8 L473.6,395.2 L475.1,387.8 L476.6,380.7 L478.1,373.7 L479.6,367.1 L481.1,360.5 L482.6,354.1 L484.1,347.8 L485.6,341.8 L487.1,336.1 L488.6,330.7 L490.1,325.7 L491.6,320.9 L493.1,316.3 L494.6,311.9 L496.1,307.6 L497.6,303.4 L499.1,299.1 L500.6,294.9 L502.1,290.5 L503.6,286.0 L505.1,281.6 L506.6,277.5 L508.1,273.8 L509.6,270.5 L511.1,267.6 L512.6,264.8 L514.1,262.1 L515.6,259.4 L517.1,256.8 L518.6,254.2 L520.1,251.7 L521.6,249.2 L523.1,246.9 L524.6,244.7 L526.1,242.6 L527.6,240.7 L529.1,238.8 L530.6,236.9 L532.1,235.1 L533.6,233.4 L535.1,231.7 L536.6,230.1 L538.1,228.4 L539.6,226.8 L541.1,225.2 L542.6,223.6 L544.1,222.1 L545.6,220.5 L547.1,219.0 L548.6,217.6 L550.1,216.2 L551.6,214.8 L553.1,213.5 L554.6,212.3 L556.1,211.1 L557.6,209.9 L559.1,208.7 L560.6,207.6 L562.1,206.6 L563.6,205.5 L565.1,204.4 L566.6,203.3 L568.1,202.3 L569.6,201.4 L571.1,200.7 L572.6,200.1 L574.1,199.6 L575.6,199.2 L577.1,198.8 L578.6,198.4 L580.1,198.1 L581.6,197.7 L583.1,197.4 L584.6,197.1 L586.1,196.7 L587.6,196.4 L589.1,196.2 L590.6,195.9 L592.1,195.6 L593.6,195.2 L595.1,195.0 L596.6,194.8 L598.1,194.7 L599.6,195.9 L601.1,198.3 L602.6,201.1 L604.1,205.1 L605.6,210.1 L607.1,215.8 L608.6,221.7 L610.1,227.4 L611.6,233.1 L613.1,239.2 L614.6,245.4 L616.1,251.5 L617.6,257.5 L619.1,263.6 L620.6,270.6 L622.1,277.2 L623.6,281.6 L625.1,282.4 L626.6,280.0 L628.1,275.9 L629.6,271.2 L631.1,266.9 L632.6,262.2 L634.1,257.2 L635.6,252.0 L637.1,246.9 L638.6,242.3 L640.1,237.8 L641.6,233.4 L643.1,229.1 L644.6,225.1 L646.1,221.6 L647.6,218.6 L649.1,215.7 L650.6,213.0 L652.1,210.7 L653.6,208.6 L654.5,207.5 L656.0,205.9 L657.5,204.5 L659.0,203.3 L660.5,202.6 L662.0,202.0 L663.5,201.4 L665.0,200.8 L666.5,200.2 L668.0,199.6 L669.5,199.0 L671.0,198.4 L672.5,197.8 L674.0,197.2 L675.5,196.7 L677.0,196.1 L678.5,195.5 L680.0,195.0 L681.5,194.4 L683.0,193.8 L684.5,193.3 L686.0,192.7 L687.5,192.1 L689.0,191.4 L690.5,190.4 L692.0,189.2 L693.5,187.9 L695.0,186.5 L696.5,184.9 L698.0,183.3 L699.5,181.7 L701.0,180.1 L702.5,178.4 L704.0,176.7 L705.5,174.9 L707.0,173.2 L708.5,171.4 L710.0,169.8 L711.5,168.1 L713.0,166.5 L714.5,165.0 L716.0,163.4 L717.5,161.9 L719.0,160.4 L720.5,159.0 L722.0,157.6 L723.5,156.2 L725.0,154.8 L726.5,153.5 L728.0,152.3 L729.5,151.1 L731.0,150.0 L732.5,148.9 L734.0,147.9 L735.5,146.9 L737.0,145.9 L738.5,145.0 L740.0,144.2 L741.5,143.4 L743.0,142.7 L744.5,142.0 L746.0,141.4 L747.5,140.8 L749.0,140.3 L750.5,139.8 L752.0,139.3 L753.5,138.9 L755.0,138.6 L756.5,138.3 L758.0,138.1 L759.5,137.9 L761.0,137.8 L762.5,137.7 L764.0,137.7 L765.5,137.7 L767.0,137.7 L768.5,137.8 L770.0,138.0 L771.5,138.1 L773.0,138.4 L774.5,138.6 L776.0,138.9 L777.5,139.2 L779.0,139.6 L780.5,140.0 L782.0,140.5 L783.5,141.0 L785.0,141.5 L786.5,142.1 L788.0,142.7 L789.5,143.4 L791.0,144.1 L792.5,144.8 L794.0,145.6 L795.5,146.4 L797.0,147.3 L798.5,148.2 L800.0,149.1 L801.5,150.1 L803.0,151.2 L804.5,152.3 L806.0,153.4 L807.5,154.5 L809.0,155.7 L810.5,156.9 L812.0,158.2 L813.5,159.5 L815.0,160.7 L816.5,162.1 L818.0,163.4 L819.5,164.7 L821.0,166.1 L822.5,167.5 L824.0,168.9 L825.5,170.3 L827.0,171.7 L828.5,173.1 L830.0,174.5 L831.5,176.0 L833.0,177.5 L834.5,179.0 L836.0,180.6 L837.5,182.3 L839.0,184.0 L840.5,185.8 L842.0,187.6 L843.5,189.4 L845.0,191.3 L846.5,193.1 L848.0,194.9 L849.5,196.8 L851.0,198.7 L852.5,200.6 L854.0,202.4 L855.5,204.3 L857.0,206.3 L858.5,208.2 L860.0,210.1 L861.5,212.0 L863.0,214.0 L864.5,215.9 L866.0,217.9 L867.5,219.9 L869.0,221.8 L870.5,223.8 L872.0,225.7 L873.5,227.7 L875.0,229.6 L876.5,231.6 L878.0,233.6 L879.5,235.5 L881.0,237.5 L882.5,239.4 L884.0,241.4 L885.5,243.3 L887.0,245.3 L888.5,247.2 L890.0,249.2 L891.5,251.1 L893.0,253.1 L894.5,255.0 L896.0,257.0 L897.5,258.9 L899.0,260.9 L900.5,262.8 L902.0,264.8 L903.5,266.7 L905.0,268.7 L906.5,270.6 L908.0,272.6 L909.5,274.5 L911.0,276.4 L912.5,278.4 L914.0,280.3 L915.5,282.3 L917.0,284.2 L918.5,286.2 L920.0,288.1 L921.5,290.0 L923.0,292.0 L924.5,293.9 L926.0,295.9 L927.5,297.8 L929.0,299.8 L930.5,301.8 L932.0,303.7 L933.5,305.7 L935.0,307.7 L936.5,310.6 L938.0,312.5 L939.5,313.9 L941.0,315.3 L942.5,317.1 L944.0,319.6 L945.5,322.8 L947.0,325.8 L948.5,328.4 L950.0,330.3 L951.5,332.2 L953.0,334.4 L954.5,337.2 L956.0,340.2 L957.5,343.0 L959.0,345.1 L960.5,346.6 L962.0,348.1 L963.5,350.1 L965.0,352.8 L966.5,356.0 L968.0,359.1 L969.5,361.5 L971.0,363.4 L972.5,365.1 L974.0,367.1 L975.5,369.9 L977.0,373.0 L978.5,376.0 L980.0,378.3 L981.5,380.0 L983.0,381.6 L984.5,383.7 L986.0,386.4 L987.5,389.5 L989.0,392.5 L990.5,394.8 L992.0,396.4 L993.5,398.0 L995.0,400.1 L996.5,402.8 L998.0,405.9 L999.5,408.8 L1001.0,411.0 L1002.5,412.6 L1004.0,414.0 L1005.5,415.9 L1007.0,418.4 L1008.5,421.2 L1010.0,423.9 L1011.5,425.9 L1013.0,427.3 L1014.5,428.6 L1016.0,430.5 L1017.5,433.0 L1019.0,436.0 L1020.5,438.9 L1022.0,441.1 L1023.5,442.9 L1025.0,444.5 L1026.5,446.7 L1028.0,449.6 L1029.5,452.9 L1031.0,456.0 L1032.5,458.4 L1034.0,460.3 L1035.5,462.1 L1037.0,464.3 L1038.5,467.2 L1040.0,470.4 L1041.5,473.4 L1043.0,475.7 L1044.5,477.4 L1046.0,478.9 L1047.5,480.9 L1049.0,483.4 L1050.5,486.2 L1052.0,488.8 L1053.5,490.7 L1055.0,492.0 L1056.5,493.3 L1058.0,495.0 L1059.5,497.3 L1061.0,500.2 L1062.5,502.9 L1064.0,505.0 L1065.5,506.6 L1067.0,508.1 L1068.5,510.2 L1070.0,513.0 L1071.5,516.1 L1073.0,519.1 L1074.5,521.5 L1076.0,523.2 L1077.5,524.8 L1079.0,526.8 L1080.5,529.5 L1082.0,532.5 L1083.5,535.2 L1085.0,537.2 L1086.5,538.7 L1088.0,540.0 L1089.5,541.8 L1091.0,544.3 L1092.5,547.1 L1094.0,549.8 L1095.5,551.8 L1097.0,553.2 L1098.5,554.5 L1100.0,556.2 L1101.5,558.7 L1103.0,561.5 L1104.5,564.1 L1106.0,566.0 L1107.5,567.3 L1109.0,568.6 L1110.5,570.3 L1112.0,572.7 L1113.5,575.5 L1115.0,578.4 L1116.5,580.9 L1118.0,582.8 L1119.3,585.3 L1119.4,737.0" stroke="#ffae6a" stroke-width="3.8"/>
<path d="M874.8,737.0 L874.8,653.0 L1484.0,436.8" stroke="#a3cffc" stroke-width="3.8" stroke-linejoin="miter"/>
<path d="M163.2,737.0 L163.2,533.7 L163.3,737.0 M164.2,737.0 L165.2,690.0 L166.5,655.0 L168.6,632.0 L171.5,615.0 L172.5,613.3 L173.5,610.4 L174.5,607.5 L175.5,606.3 L176.5,603.6 L177.5,603.4 L178.5,603.7 L179.5,599.5 L180.5,597.9 L181.5,598.3 L182.5,596.9 L183.5,595.4 L184.5,592.8 L185.5,593.1 L186.5,593.0 L187.5,588.9 L188.5,589.1 L189.5,585.8 L190.5,585.5 L191.5,583.4 L192.5,584.4 L193.5,581.4 L194.5,582.3 L195.5,580.9 L196.5,579.1 L197.5,574.4 L198.5,576.2 L199.5,575.7 L200.5,574.6 L201.5,570.5 L202.5,570.5 L203.5,568.4 L204.5,567.7 L205.5,569.6 L206.5,566.0 L207.5,566.5 L208.5,567.1 L209.5,564.1 L210.5,563.9 L211.5,563.2 L212.5,562.1 L213.5,559.0 L214.5,559.7 L215.5,560.4 L216.5,554.5 L217.5,556.5 L218.5,553.9 L219.5,551.5 L220.5,554.8 L221.5,552.4 L222.5,549.1 L223.5,550.7 L224.5,551.1 L225.5,549.5 L226.5,550.2 L227.5,548.5 L228.5,549.1 L229.5,549.9 L230.5,547.1 L231.5,550.9 L232.5,552.1 L233.5,551.8 L234.5,545.7 L235.5,544.3 L236.5,543.7 L237.5,544.4 L238.5,543.8 L239.5,539.1 L240.5,538.5 L241.5,538.8 L242.5,532.9 L243.5,533.3 L244.5,532.4 L245.5,533.4 L246.5,531.7 L247.5,529.6 L248.5,529.9 L249.5,533.0 L250.5,539.3 L251.5,538.3 L252.5,531.7 L253.5,526.4 L254.5,522.5 L255.5,520.1 L256.5,516.9 L257.5,517.0 L258.5,515.0 L259.5,516.3 L260.5,514.5 L261.5,512.7 L262.5,513.0 L263.5,510.8 L264.5,512.0 L265.5,509.5 L266.5,509.1 L267.5,504.9 L268.5,505.8 L269.5,501.3 L270.5,499.5 L271.5,501.0 L272.5,499.2 L273.5,500.0 L274.5,502.2 L275.5,496.7 L276.5,496.1 L277.5,496.4 L278.5,495.7 L279.5,493.2 L280.5,490.4 L281.5,488.1 L281.3,487.0 L281.3,448.0 L282.4,487.0 L283.4,449.0 L284.4,485.0 L285.4,448.0 L286.2,479.0 L287.0,449.0 L288.5,451.0 L290.1,475.0 L291.0,446.0 L292.5,452.0 L294.2,465.4 L295.5,450.0 L297.0,452.0 L298.9,461.9 L299.8,450.0 L300.5,449.6 L302.0,447.5 L303.5,447.1 L305.0,446.0 L306.5,444.1 L308.0,444.1 L309.5,442.3 L311.0,442.8 L312.5,441.1 L314.0,440.0 L315.5,438.3 L317.0,437.6 L318.5,435.0 L320.0,434.7 L321.5,434.9 L323.0,431.9 L324.5,433.3 L326.0,430.3 L327.5,431.4 L329.0,429.2 L330.5,429.7 L332.0,428.5 L333.5,426.5 L335.0,428.1 L336.5,427.6 L338.0,425.9 L339.5,425.2 L341.0,424.7 L342.5,423.5 L344.0,424.7 L345.5,422.9 L347.0,422.9 L348.5,421.9 L350.0,421.5 L351.5,420.5 L353.0,422.0 L354.5,420.2 L356.0,420.4 L357.5,419.0 L359.0,417.7 L360.5,417.4 L362.0,416.6 L363.5,416.4 L365.0,415.6 L366.5,415.1 L368.0,413.7 L369.5,413.6 L371.0,415.1 L372.5,412.6 L374.0,411.7 L375.5,412.1 L377.0,412.3 L378.5,409.3 L380.0,409.7 L381.5,408.7 L383.0,407.2 L384.5,408.6 L386.0,407.4 L387.5,406.9 L389.0,405.7 L390.5,406.1 L392.0,404.8 L393.5,404.7 L395.0,403.6 L396.5,403.2 L398.0,404.9 L399.5,403.1 L401.0,403.4 L402.5,402.9 L404.0,402.2 L405.5,401.9 L407.0,402.5 L408.5,401.5 L410.0,401.4 L411.5,401.3 L413.0,402.0 L414.5,401.5 L416.0,401.1 L417.5,400.3 L419.0,399.5 L420.5,401.2 L422.0,401.0 L423.5,399.8 L425.0,399.9 L426.5,399.7 L428.0,399.2 L429.5,398.8 L431.0,397.2 L432.5,398.1 L434.0,395.0 L435.5,395.6 L437.0,394.2 L438.5,393.6 L440.0,394.0 L441.5,393.8 L443.0,391.9 L444.5,391.7 L446.0,394.0 L447.5,392.7 L449.0,393.5 L450.5,394.0 L452.0,391.6 L453.5,392.5 L455.0,392.0 L456.5,391.4 L458.0,390.7 L459.5,389.7 L461.0,388.4 L462.5,386.5 L464.0,383.9 L465.5,381.0 L467.0,377.9 L468.5,374.2 L470.0,370.0 L471.5,365.8 L473.0,361.8 L474.5,358.0 L476.0,354.3 L477.5,350.6 L479.0,346.8 L480.5,342.9 L482.0,338.8 L483.5,334.5 L485.0,330.2 L486.5,325.8 L488.0,321.4 L489.5,317.1 L491.0,312.7 L492.5,308.2 L494.0,303.8 L495.5,299.4 L497.0,294.9 L498.5,290.4 L500.0,286.0 L501.5,282.0 L503.0,278.3 L504.5,274.8 L506.0,271.5 L507.5,268.4 L509.0,265.6 L510.5,263.1 L512.0,260.8 L513.5,258.6 L515.0,256.3 L516.5,253.9 L518.0,251.5 L519.5,249.1 L521.0,246.6 L522.5,244.2 L524.0,241.9 L525.5,239.6 L527.0,237.2 L528.5,234.9 L530.0,232.5 L531.5,230.4 L533.0,228.4 L534.5,226.7 L536.0,225.3 L537.5,224.1 L539.0,222.9 L540.5,221.7 L542.0,220.3 L543.5,218.9 L545.0,217.3 L546.5,215.8 L548.0,214.2 L549.5,212.7 L551.0,211.3 L552.5,209.9 L554.0,208.6 L555.5,207.4 L557.0,206.2 L558.5,205.0 L560.0,203.9 L561.5,202.8 L563.0,201.8 L564.5,200.7 L566.0,199.8 L567.5,198.8 L569.0,197.9 L570.5,197.0 L572.0,196.1 L573.5,195.3 L575.0,194.6 L576.5,193.7 L578.0,192.3 L579.5,187.8 L581.0,185.8 L582.5,189.6 L584.0,191.7 L585.5,191.5 L587.0,191.1 L588.5,190.5 L590.0,189.8 L591.5,189.0 L593.0,188.1 L594.5,187.0 L596.0,185.1 L597.5,182.8 L599.0,180.7 L600.5,179.6 L602.0,180.0 L603.5,181.8 L605.0,184.5 L606.5,187.9 L608.0,194.2 L609.5,201.0 L611.0,205.7 L612.5,209.4 L614.0,212.9 L615.5,216.2 L617.0,219.4 L618.5,223.2 L620.0,228.7 L621.5,236.5 L623.0,243.4 L624.5,248.3 L626.0,247.5 L627.5,245.2 L629.0,241.9 L630.5,237.9 L632.0,233.9 L633.5,229.0 L635.0,223.7 L636.5,220.9 L638.0,218.9 L639.5,216.6 L641.0,213.4 L642.5,209.5 L644.0,205.7 L645.5,202.3 L647.0,199.8 L648.5,197.8 L650.0,196.0 L651.5,194.4 L653.0,192.9 L654.5,191.5 L656.0,190.1 L657.5,188.7 L659.0,187.4 L660.5,186.2 L662.0,185.0 L663.5,183.8 L665.0,182.6 L666.5,181.5 L668.0,180.3 L669.5,179.1 L671.0,177.7 L672.5,176.2 L674.0,174.9 L675.5,173.9 L677.0,173.5 L678.5,173.3 L680.0,173.2 L681.5,172.8 L683.0,172.3 L684.5,171.7 L686.0,171.0 L687.5,170.3 L689.0,169.5 L690.5,168.7 L692.0,167.7 L693.5,166.6 L695.0,165.4 L696.5,164.2 L698.0,163.0 L699.5,161.9 L701.0,160.8 L702.5,159.8 L704.0,158.7 L704.6,158.3 L706.1,157.3 L707.6,156.3 L709.1,155.2 L710.6,154.1 L712.1,153.0 L713.6,151.8 L715.1,150.5 L716.6,149.2 L718.1,147.9 L719.6,146.7 L721.1,145.5 L722.6,144.4 L724.1,143.2 L725.6,142.0 L727.1,140.9 L728.6,139.7 L730.1,138.6 L731.6,137.5 L733.1,136.3 L734.6,135.2 L736.1,134.1 L737.6,132.9 L739.1,131.8 L740.6,130.7 L742.1,129.6 L743.6,128.6 L745.1,127.6 L746.6,126.6 L748.1,125.8 L749.6,125.0 L751.1,124.3 L752.6,123.7 L754.1,123.2 L755.6,122.7 L757.1,122.3 L758.6,121.8 L760.1,121.5 L761.6,121.1 L763.1,120.7 L764.6,120.4 L766.1,120.0 L767.6,119.6 L769.1,119.3 L770.6,118.9 L772.1,118.6 L773.6,118.2 L775.1,117.9 L776.6,117.6 L778.1,117.3 L779.6,117.0 L781.1,116.8 L782.6,116.5 L784.1,116.3 L785.6,116.1 L787.1,115.9 L788.6,115.8 L790.1,115.6 L791.6,115.5 L793.1,115.4 L794.6,115.3 L796.1,115.3 L797.6,115.3 L799.1,115.3 L800.6,115.4 L802.1,115.5 L803.6,115.6 L805.1,115.7 L806.6,115.9 L808.1,116.1 L809.6,116.2 L811.1,116.5 L812.6,116.7 L814.1,116.9 L815.6,117.2 L817.1,117.5 L818.6,117.8 L820.1,118.1 L821.6,118.5 L823.1,118.9 L824.6,119.3 L826.1,119.7 L827.6,120.1 L829.1,120.6 L830.6,121.1 L832.1,121.6 L833.6,122.2 L835.1,122.7 L836.6,123.3 L838.1,123.8 L839.6,124.4 L841.1,124.9 L842.6,125.5 L844.1,126.1 L845.6,126.7 L847.1,127.2 L848.6,127.8 L850.1,128.4 L851.6,129.0 L853.1,129.6 L854.6,130.2 L856.1,130.8 L857.6,131.4 L859.1,132.1 L860.6,132.7 L862.1,133.4 L863.6,134.1 L865.1,134.8 L866.6,135.6 L868.1,136.5 L869.6,137.3 L871.1,138.2 L872.6,139.1 L874.1,140.1 L875.6,141.1 L877.1,142.1 L878.6,143.1 L880.1,144.1 L881.6,145.1 L883.1,146.1 L884.6,147.2 L886.1,148.2 L887.6,149.3 L889.1,150.3 L890.6,151.4 L892.1,152.5 L893.6,153.5 L895.1,154.6 L896.6,155.7 L898.1,156.8 L899.6,157.9 L901.1,159.0 L902.6,160.0 L904.1,161.2 L905.6,162.3 L907.1,163.5 L908.6,164.8 L910.1,166.1 L911.6,167.5 L913.1,168.9 L914.6,170.3 L916.1,171.8 L917.6,173.3 L919.1,174.8 L920.6,176.2 L922.1,177.7 L923.6,179.2 L925.1,180.7 L926.6,182.2 L928.1,183.6 L929.6,185.1 L931.1,186.5 L932.6,187.9 L934.1,189.3 L935.6,190.7 L937.1,192.1 L938.6,193.6 L940.1,195.0 L941.6,196.5 L943.1,198.0 L944.6,199.5 L946.1,201.0 L947.6,202.6 L949.1,204.2 L950.6,205.9 L952.1,207.6 L953.6,209.4 L955.1,211.2 L956.6,213.1 L958.1,215.0 L959.6,217.0 L961.1,219.0 L962.6,221.0 L964.1,223.1 L965.6,225.2 L967.1,227.3 L968.6,229.5 L970.1,231.7 L971.6,233.9 L973.1,236.1 L974.6,238.3 L976.1,240.5 L977.6,242.7 L979.1,244.9 L980.6,247.1 L982.1,249.3 L983.6,251.5 L985.1,253.6 L986.6,255.8 L988.1,257.9 L989.6,260.1 L991.1,262.2 L992.6,264.3 L994.1,266.5 L995.6,268.6 L997.1,270.8 L998.6,273.0 L1000.1,275.1 L1001.6,277.3 L1003.1,279.5 L1004.6,281.7 L1006.1,283.9 L1007.6,286.1 L1009.1,288.3 L1010.6,290.5 L1012.1,292.7 L1013.6,294.9 L1015.1,297.0 L1016.6,299.2 L1018.1,301.4 L1019.6,303.6 L1021.1,305.8 L1022.6,308.0 L1024.1,310.2 L1025.6,312.4 L1027.1,314.5 L1028.6,316.7 L1030.1,318.9 L1031.6,321.1 L1033.1,323.3 L1034.6,325.4 L1036.1,327.6 L1037.6,329.8 L1039.1,332.0 L1040.6,334.1 L1042.1,336.3 L1043.6,338.5 L1045.1,340.7 L1046.6,342.8 L1048.1,345.0 L1049.6,347.2 L1051.1,349.4 L1052.6,351.5 L1054.1,353.7 L1055.6,355.9 L1057.1,358.0 L1058.6,360.1 L1060.1,362.2 L1061.6,364.4 L1063.1,366.4 L1064.6,368.5 L1066.1,370.6 L1067.6,372.6 L1069.1,374.7 L1070.6,376.7 L1072.1,378.7 L1073.6,380.7 L1075.1,382.7 L1076.6,384.7 L1078.1,386.6 L1079.6,388.5 L1081.1,390.5 L1082.6,392.4 L1084.1,394.2 L1085.6,396.1 L1087.1,397.9 L1088.6,399.7 L1090.1,401.4 L1091.6,403.1 L1093.1,404.8 L1094.6,406.4 L1096.1,408.1 L1097.6,409.7 L1099.1,411.3 L1100.6,413.0 L1102.1,414.6 L1103.6,416.1 L1105.1,417.6 L1106.6,419.1 L1108.1,420.6 L1109.6,422.1 L1111.1,423.6 L1112.6,425.1 L1114.1,426.6 L1115.6,428.1 L1117.1,429.7 L1118.6,431.3 L1120.1,433.7 L1121.6,435.2 L1123.1,436.7 L1124.6,438.1 L1126.1,439.4 L1127.6,440.7 L1129.1,441.9 L1130.6,443.0 L1132.1,444.0 L1133.6,445.0 L1135.1,446.0 L1136.6,447.0 L1138.1,448.0 L1139.6,448.9 L1141.1,449.9 L1142.6,450.8 L1144.1,451.8 L1145.6,452.7 L1147.1,453.6 L1148.6,454.4 L1150.1,455.3 L1151.6,456.1 L1153.1,456.8 L1154.6,457.5 L1156.1,458.2 L1157.6,458.9 L1159.1,459.5 L1160.6,460.2 L1162.1,460.8 L1163.6,461.3 L1165.1,461.9 L1166.6,462.4 L1168.1,462.9 L1169.6,463.3 L1171.1,463.7 L1172.6,464.1 L1174.1,464.4 L1175.6,464.7 L1177.1,465.0 L1178.6,465.2 L1180.1,465.5 L1181.6,465.7 L1183.1,465.9 L1184.6,466.2 L1186.1,466.3 L1187.6,466.5 L1189.1,466.7 L1190.6,466.8 L1192.1,467.0 L1193.6,467.1 L1195.1,467.1 L1196.6,467.2 L1198.1,467.3 L1199.6,467.4 L1201.1,467.4 L1202.6,467.5 L1204.1,467.5 L1205.6,467.6 L1207.1,467.6 L1208.6,467.6 L1210.1,467.6 L1211.6,467.6 L1213.1,467.6 L1214.6,467.6 L1216.1,467.5 L1217.6,467.5 L1219.1,467.4 L1220.6,467.3 L1222.1,467.2 L1223.6,467.1 L1225.1,467.0 L1226.6,466.9 L1228.1,466.8 L1229.6,466.6 L1231.1,466.5 L1232.6,466.3 L1234.1,466.2 L1235.6,466.0 L1237.1,465.8 L1238.6,465.7 L1240.1,465.5 L1241.6,465.3 L1243.1,465.1 L1244.6,464.9 L1246.1,464.7 L1247.6,464.5 L1249.1,464.3 L1250.6,464.1 L1252.1,463.9 L1253.6,463.7 L1255.1,463.5 L1256.6,463.3 L1258.1,463.1 L1259.6,462.9 L1261.1,462.7 L1262.6,462.5 L1264.1,462.3 L1265.6,462.1 L1267.1,461.9 L1268.6,461.7 L1270.1,461.5 L1271.6,461.3 L1273.1,461.1 L1274.6,460.9 L1276.1,460.7 L1277.6,460.5 L1279.1,460.3 L1280.6,460.1 L1282.1,459.9 L1283.6,459.7 L1285.1,459.5 L1286.6,459.3 L1288.1,459.1 L1289.6,458.9 L1291.1,458.6 L1292.6,458.4 L1294.1,458.2 L1295.6,458.0 L1297.1,457.7 L1298.6,457.5 L1300.1,457.2 L1301.6,456.9 L1303.1,456.6 L1304.6,456.3 L1306.1,456.0 L1307.6,455.7 L1309.1,455.4 L1310.6,455.1 L1312.1,454.8 L1313.6,454.5 L1315.1,454.2 L1316.6,453.9 L1318.1,453.6 L1319.6,453.3 L1321.1,453.0 L1322.6,452.7 L1324.1,452.4 L1325.6,452.1 L1327.1,451.8 L1328.6,451.5 L1330.1,451.2 L1331.6,450.9 L1333.1,450.6 L1334.6,450.3 L1336.1,450.0 L1337.6,449.7 L1339.1,449.4 L1340.6,449.1 L1342.1,448.8 L1343.6,448.5 L1345.1,448.2 L1346.6,447.9 L1348.1,447.6 L1349.6,447.3 L1351.1,447.0 L1352.6,446.7 L1354.1,446.4 L1355.6,446.1 L1357.1,445.8 L1358.6,445.5 L1360.1,445.1 L1361.6,444.8 L1363.1,444.5 L1364.6,444.2 L1366.1,443.9 L1367.6,443.6 L1369.1,443.3 L1370.6,443.0 L1372.1,442.7 L1373.6,442.4 L1375.1,442.1 L1376.6,441.8 L1378.1,441.5 L1379.6,441.2 L1381.1,440.9 L1382.6,440.6 L1384.1,440.3 L1385.6,440.0 L1387.1,439.7 L1388.6,439.4 L1390.1,439.1 L1391.6,438.8 L1393.1,438.5 L1394.6,438.2 L1396.1,437.9 L1397.6,437.6 L1399.1,437.3 L1400.6,437.0 L1402.1,436.7 L1403.6,436.4 L1405.1,436.1 L1406.6,435.7 L1408.1,435.4 L1409.6,435.1 L1411.1,434.8 L1412.6,434.5 L1414.1,434.2 L1415.6,433.9 L1417.1,433.6 L1418.6,433.3 L1420.1,433.0 L1421.6,432.7 L1423.1,432.4 L1424.6,432.1 L1426.1,431.8 L1427.6,431.5 L1429.1,431.2 L1430.6,430.9 L1432.1,430.6 L1433.6,430.3 L1435.1,430.0 L1436.6,429.7 L1438.1,429.4 L1439.6,429.1 L1441.1,428.8 L1442.6,428.5 L1444.1,428.2 L1445.6,427.9 L1447.1,427.6 L1448.6,427.3 L1450.1,427.0 L1451.6,426.7 L1453.1,426.4 L1454.6,426.1 L1456.1,425.8 L1457.6,425.5 L1459.1,425.2 L1460.6,424.9 L1462.1,424.5 L1463.6,424.2 L1465.1,423.9 L1466.6,423.6 L1468.1,423.3 L1469.6,423.0 L1471.1,422.7 L1472.6,422.4 L1474.1,422.1 L1475.6,421.8 L1477.1,421.5 L1478.6,421.2 L1480.1,420.9 L1481.6,420.6 L1483.1,420.3 L1484.0,420.1 M285.8,463.5 L285.8,438.6 M297.7,455.6 L297.7,429.8 M210.9,563.7 L210.9,533.7 M313.3,440.5 L313.3,325.3 M342.0,423.9 L342.0,327.3 M376.4,412.2 L376.4,375.8 M381.5,408.7 L381.5,347.5 M395.0,403.6 L395.0,365.7 M412.8,401.9 L412.8,367.3 M386.5,407.2 L386.5,397.0 M398.0,404.9 L398.0,387.5 M350.7,421.0 L350.7,405.1 M359.2,417.7 L359.2,412.2 M329.9,429.5 L329.9,418.3 M345.0,423.5 L345.0,410.0 M453.4,392.4 L453.4,319.3 M468.5,374.2 L468.5,363.8 M513.0,259.3 L513.0,242.2 M636.3,221.3 L636.3,179.5 M643.4,207.2 L643.4,189.6 M677.5,173.4 L677.5,152.2 M697.2,163.6 L697.2,145.4 M804.8,115.7 L804.8,61.4 M815.6,117.2 L815.6,101.5 M861.8,133.2 L861.8,41.2 M922.5,178.1 L922.5,164.5 M951.7,207.1 L951.7,203.5 M310.7,442.7 L310.7,453.6 M342.0,423.9 L342.0,432.4" stroke="#000" stroke-width="5.6" stroke-linecap="round"/>
</g>
<g stroke="#000" fill="none" stroke-linecap="butt">
<path d="M179.6,0.2 L179.6,13.6 M423.7,0.2 L423.7,13.6 M667.8,0.2 L667.8,13.6 M911.9,0.2 L911.9,13.6 M1156.0,0.2 L1156.0,13.6 M1400.1,0.2 L1400.1,13.6" stroke-width="2.8"/>
<path d="M168.4,0.2 L168.4,7.8 M253.1,0.2 L253.1,7.8 M296.1,0.2 L296.1,7.8 M326.6,0.2 L326.6,7.8 M350.2,0.2 L350.2,7.8 M369.5,0.2 L369.5,7.8 M385.9,0.2 L385.9,7.8 M400.0,0.2 L400.0,7.8 M412.5,0.2 L412.5,7.8 M497.2,0.2 L497.2,7.8 M540.2,0.2 L540.2,7.8 M570.7,0.2 L570.7,7.8 M594.3,0.2 L594.3,7.8 M613.6,0.2 L613.6,7.8 M630.0,0.2 L630.0,7.8 M644.1,0.2 L644.1,7.8 M656.6,0.2 L656.6,7.8 M741.3,0.2 L741.3,7.8 M784.3,0.2 L784.3,7.8 M814.8,0.2 L814.8,7.8 M838.4,0.2 L838.4,7.8 M857.7,0.2 L857.7,7.8 M874.1,0.2 L874.1,7.8 M888.2,0.2 L888.2,7.8 M900.7,0.2 L900.7,7.8 M985.4,0.2 L985.4,7.8 M1028.4,0.2 L1028.4,7.8 M1058.9,0.2 L1058.9,7.8 M1082.5,0.2 L1082.5,7.8 M1101.8,0.2 L1101.8,7.8 M1118.2,0.2 L1118.2,7.8 M1132.3,0.2 L1132.3,7.8 M1144.8,0.2 L1144.8,7.8 M1229.5,0.2 L1229.5,7.8 M1272.5,0.2 L1272.5,7.8 M1303.0,0.2 L1303.0,7.8 M1326.6,0.2 L1326.6,7.8 M1345.9,0.2 L1345.9,7.8 M1362.3,0.2 L1362.3,7.8 M1376.4,0.2 L1376.4,7.8 M1388.9,0.2 L1388.9,7.8 M1473.6,0.2 L1473.6,7.8" stroke-width="2.1"/>
<path d="M180.5,751.2 L180.5,737.8 M424.4,751.2 L424.4,737.8 M668.4,751.2 L668.4,737.8 M912.3,751.2 L912.3,737.8 M1156.2,751.2 L1156.2,737.8 M1400.2,751.2 L1400.2,737.8" stroke-width="3.0"/>
<path d="M169.3,751.2 L169.3,743.8 M253.9,751.2 L253.9,743.8 M296.8,751.2 L296.8,743.8 M327.3,751.2 L327.3,743.8 M351.0,751.2 L351.0,743.8 M370.3,751.2 L370.3,743.8 M386.6,751.2 L386.6,743.8 M400.8,751.2 L400.8,743.8 M413.2,751.2 L413.2,743.8 M497.8,751.2 L497.8,743.8 M540.8,751.2 L540.8,743.8 M571.3,751.2 L571.3,743.8 M594.9,751.2 L594.9,743.8 M614.2,751.2 L614.2,743.8 M630.6,751.2 L630.6,743.8 M644.7,751.2 L644.7,743.8 M657.2,751.2 L657.2,743.8 M741.8,751.2 L741.8,743.8 M784.7,751.2 L784.7,743.8 M815.2,751.2 L815.2,743.8 M838.9,751.2 L838.9,743.8 M858.2,751.2 L858.2,743.8 M874.5,751.2 L874.5,743.8 M888.7,751.2 L888.7,743.8 M901.1,751.2 L901.1,743.8 M985.7,751.2 L985.7,743.8 M1028.7,751.2 L1028.7,743.8 M1059.2,751.2 L1059.2,743.8 M1082.8,751.2 L1082.8,743.8 M1102.1,751.2 L1102.1,743.8 M1118.5,751.2 L1118.5,743.8 M1132.6,751.2 L1132.6,743.8 M1145.1,751.2 L1145.1,743.8 M1229.7,751.2 L1229.7,743.8 M1272.6,751.2 L1272.6,743.8 M1303.1,751.2 L1303.1,743.8 M1326.8,751.2 L1326.8,743.8 M1346.1,751.2 L1346.1,743.8 M1362.4,751.2 L1362.4,743.8 M1376.6,751.2 L1376.6,743.8 M1389.0,751.2 L1389.0,743.8 M1473.6,751.2 L1473.6,743.8" stroke-width="2.5"/>
<path d="M156.8,655.4 L169.8,655.4 M1482.4,655.4 L1469.4,655.4 M156.8,550.0 L169.8,550.0 M1482.4,550.0 L1469.4,550.0 M156.8,444.5 L169.8,444.5 M1482.4,444.5 L1469.4,444.5 M156.8,339.1 L169.8,339.1 M1482.4,339.1 L1469.4,339.1 M156.8,233.6 L169.8,233.6 M1482.4,233.6 L1469.4,233.6 M156.8,128.2 L169.8,128.2 M1482.4,128.2 L1469.4,128.2 M156.8,22.7 L169.8,22.7 M1482.4,22.7 L1469.4,22.7" stroke-width="2.8"/>
<path d="M156.8,729.1 L164.1,729.1 M1482.4,729.1 L1475.0,729.1 M156.8,710.5 L164.1,710.5 M1482.4,710.5 L1475.0,710.5 M156.8,697.4 L164.1,697.4 M1482.4,697.4 L1475.0,697.4 M156.8,687.1 L164.1,687.1 M1482.4,687.1 L1475.0,687.1 M156.8,678.8 L164.1,678.8 M1482.4,678.8 L1475.0,678.8 M156.8,671.7 L164.1,671.7 M1482.4,671.7 L1475.0,671.7 M156.8,665.6 L164.1,665.6 M1482.4,665.6 L1475.0,665.6 M156.8,660.2 L164.1,660.2 M1482.4,660.2 L1475.0,660.2 M156.8,623.7 L164.1,623.7 M1482.4,623.7 L1475.0,623.7 M156.8,605.1 L164.1,605.1 M1482.4,605.1 L1475.0,605.1 M156.8,591.9 L164.1,591.9 M1482.4,591.9 L1475.0,591.9 M156.8,581.7 L164.1,581.7 M1482.4,581.7 L1475.0,581.7 M156.8,573.3 L164.1,573.3 M1482.4,573.3 L1475.0,573.3 M156.8,566.3 L164.1,566.3 M1482.4,566.3 L1475.0,566.3 M156.8,560.2 L164.1,560.2 M1482.4,560.2 L1475.0,560.2 M156.8,554.8 L164.1,554.8 M1482.4,554.8 L1475.0,554.8 M156.8,518.2 L164.1,518.2 M1482.4,518.2 L1475.0,518.2 M156.8,499.6 L164.1,499.6 M1482.4,499.6 L1475.0,499.6 M156.8,486.5 L164.1,486.5 M1482.4,486.5 L1475.0,486.5 M156.8,476.2 L164.1,476.2 M1482.4,476.2 L1475.0,476.2 M156.8,467.9 L164.1,467.9 M1482.4,467.9 L1475.0,467.9 M156.8,460.8 L164.1,460.8 M1482.4,460.8 L1475.0,460.8 M156.8,454.7 L164.1,454.7 M1482.4,454.7 L1475.0,454.7 M156.8,449.3 L164.1,449.3 M1482.4,449.3 L1475.0,449.3 M156.8,412.8 L164.1,412.8 M1482.4,412.8 L1475.0,412.8 M156.8,394.2 L164.1,394.2 M1482.4,394.2 L1475.0,394.2 M156.8,381.0 L164.1,381.0 M1482.4,381.0 L1475.0,381.0 M156.8,370.8 L164.1,370.8 M1482.4,370.8 L1475.0,370.8 M156.8,362.4 L164.1,362.4 M1482.4,362.4 L1475.0,362.4 M156.8,355.4 L164.1,355.4 M1482.4,355.4 L1475.0,355.4 M156.8,349.3 L164.1,349.3 M1482.4,349.3 L1475.0,349.3 M156.8,343.9 L164.1,343.9 M1482.4,343.9 L1475.0,343.9 M156.8,307.3 L164.1,307.3 M1482.4,307.3 L1475.0,307.3 M156.8,288.7 L164.1,288.7 M1482.4,288.7 L1475.0,288.7 M156.8,275.6 L164.1,275.6 M1482.4,275.6 L1475.0,275.6 M156.8,265.3 L164.1,265.3 M1482.4,265.3 L1475.0,265.3 M156.8,257.0 L164.1,257.0 M1482.4,257.0 L1475.0,257.0 M156.8,249.9 L164.1,249.9 M1482.4,249.9 L1475.0,249.9 M156.8,243.8 L164.1,243.8 M1482.4,243.8 L1475.0,243.8 M156.8,238.4 L164.1,238.4 M1482.4,238.4 L1475.0,238.4 M156.8,201.9 L164.1,201.9 M1482.4,201.9 L1475.0,201.9 M156.8,183.3 L164.1,183.3 M1482.4,183.3 L1475.0,183.3 M156.8,170.1 L164.1,170.1 M1482.4,170.1 L1475.0,170.1 M156.8,159.9 L164.1,159.9 M1482.4,159.9 L1475.0,159.9 M156.8,151.5 L164.1,151.5 M1482.4,151.5 L1475.0,151.5 M156.8,144.5 L164.1,144.5 M1482.4,144.5 L1475.0,144.5 M156.8,138.4 L164.1,138.4 M1482.4,138.4 L1475.0,138.4 M156.8,133.0 L164.1,133.0 M1482.4,133.0 L1475.0,133.0 M156.8,96.4 L164.1,96.4 M1482.4,96.4 L1475.0,96.4 M156.8,77.8 L164.1,77.8 M1482.4,77.8 L1475.0,77.8 M156.8,64.7 L164.1,64.7 M1482.4,64.7 L1475.0,64.7 M156.8,54.4 L164.1,54.4 M1482.4,54.4 L1475.0,54.4 M156.8,46.1 L164.1,46.1 M1482.4,46.1 L1475.0,46.1 M156.8,39.0 L164.1,39.0 M1482.4,39.0 L1475.0,39.0 M156.8,32.9 L164.1,32.9 M1482.4,32.9 L1475.0,32.9 M156.8,27.5 L164.1,27.5 M1482.4,27.5 L1475.0,27.5" stroke-width="2.1"/>
</g>
<g clip-path="url(#ax)">
<path d="M823.5,91.2 L853.5,91.2 L838.5,121.2Z" fill="#d3fdfd" stroke="#4a0d3f" stroke-width="3.8" stroke-linejoin="miter"/>
<path d="M1457.6,343.2 L1487.6,343.2 L1472.6,373.2Z" fill="#d3fdfd" stroke="#4a0d3f" stroke-width="3.8" stroke-linejoin="miter"/>
<circle cx="168" cy="626" r="7.1" fill="#f82843"/>
<circle cx="308.3" cy="438.1" r="7.1" fill="#f82843"/>
<circle cx="669" cy="190" r="7.1" fill="#f82843"/>
<circle cx="718.1" cy="148.2" r="7.1" fill="#f82843"/>
<circle cx="764.5" cy="120.5" r="7.1" fill="#f82843"/>
<circle cx="800" cy="115.5" r="7.1" fill="#f82843"/>
<circle cx="838.4" cy="124" r="7.1" fill="#f82843"/>
<circle cx="897.1" cy="156" r="7.1" fill="#f82843"/>
<circle cx="925.4" cy="181" r="7.1" fill="#f82843"/>
<circle cx="1472.2" cy="422.5" r="7.1" fill="#f82843"/>
</g>
<g stroke="#000" fill="none" stroke-linecap="butt">
<path d="M156.8,735.0 L156.8,0.2 L1482.4,0.2 L1482.4,735.0" stroke-width="3.4" stroke-linejoin="miter"/>
<path d="M157.4,734.0 L157.4,752.3 M1482.9,734.0 L1482.9,752.3" stroke-width="2.8"/>
<path d="M156,751.1 L1484.3000000000002,751.1" stroke-width="2.7"/>
</g>
<g clip-path="url(#ax)">
<path d="M669,168.4 L669,258.4" stroke="#07696b" stroke-width="3.6"/>
<path d="M800,100 L800,143.4" stroke="#07696b" stroke-width="3.6"/>
<circle cx="168.0" cy="635.7" r="15.4" fill="#d9edf2" stroke="#07696b" stroke-width="3.7"/>
<path d="M168.0,624.7 L168.0,646.7" stroke="#cfe4ea" stroke-width="3"/>
<circle cx="308.3" cy="414.8" r="15.4" fill="#d9edf2" stroke="#07696b" stroke-width="3.7"/>
<path d="M308.3,403.8 L308.3,425.8" stroke="#cfe4ea" stroke-width="3"/>
<circle cx="669" cy="193.7" r="15.4" fill="#d9edf2" stroke="#07696b" stroke-width="3.7"/>
<path d="M669,182.7 L669,204.7" stroke="#cfe4ea" stroke-width="3"/>
<circle cx="718.1" cy="129.4" r="15.4" fill="#d9edf2" stroke="#07696b" stroke-width="3.7"/>
<path d="M718.1,118.4 L718.1,140.4" stroke="#cfe4ea" stroke-width="3"/>
<circle cx="764.5" cy="108.8" r="15.4" fill="#d9edf2" stroke="#07696b" stroke-width="3.7"/>
<path d="M764.5,97.8 L764.5,119.8" stroke="#cfe4ea" stroke-width="3"/>
<circle cx="800" cy="116.4" r="15.4" fill="#d9edf2" stroke="#07696b" stroke-width="3.7"/>
<path d="M800,105.4 L800,127.4" stroke="#cfe4ea" stroke-width="3"/>
<circle cx="897.1" cy="161.5" r="15.4" fill="#d9edf2" stroke="#07696b" stroke-width="3.7"/>
<path d="M897.1,150.5 L897.1,172.5" stroke="#cfe4ea" stroke-width="3"/>
<circle cx="925.4" cy="180.7" r="15.4" fill="#d9edf2" stroke="#07696b" stroke-width="3.7"/>
<path d="M925.4,169.7 L925.4,191.7" stroke="#cfe4ea" stroke-width="3"/>
</g>
<text x="141.7" y="669.5" font-size="37.4" text-anchor="end">10<tspan font-size="26.2" dy="-14.2" dx="0.0">−4</tspan></text>
<text x="141.7" y="562.5" font-size="37.4" text-anchor="end">10<tspan font-size="26.2" dy="-14.2" dx="0.0">−3</tspan></text>
<text x="141.7" y="457.3" font-size="37.4" text-anchor="end">10<tspan font-size="26.2" dy="-14.2" dx="0.0">−2</tspan></text>
<text x="141.7" y="353.5" font-size="37.4" text-anchor="end">10<tspan font-size="26.2" dy="-14.2" dx="0.0">−1</tspan></text>
<text x="142.4" y="246.8" font-size="37.4" text-anchor="end">10<tspan font-size="26.2" dy="-14.2" dx="1.2">0</tspan></text>
<text x="142.4" y="142.9" font-size="37.4" text-anchor="end">10<tspan font-size="26.2" dy="-14.2" dx="1.2">1</tspan></text>
<text x="142.4" y="36.1" font-size="37.4" text-anchor="end">10<tspan font-size="26.2" dy="-14.2" dx="1.2">2</tspan></text>
<text x="179.4" y="793.8" font-size="37.4" text-anchor="middle">10<tspan font-size="26.2" dy="-14.2" dx="0.2">0</tspan></text>
<text x="423.5" y="793.8" font-size="37.4" text-anchor="middle">10<tspan font-size="26.2" dy="-14.2" dx="0.2">1</tspan></text>
<text x="667.6" y="793.8" font-size="37.4" text-anchor="middle">10<tspan font-size="26.2" dy="-14.2" dx="0.2">2</tspan></text>
<text x="911.7" y="793.8" font-size="37.4" text-anchor="middle">10<tspan font-size="26.2" dy="-14.2" dx="0.2">3</tspan></text>
<text x="1155.8" y="793.8" font-size="37.4" text-anchor="middle">10<tspan font-size="26.2" dy="-14.2" dx="0.2">4</tspan></text>
<text x="1399.9" y="793.8" font-size="37.4" text-anchor="middle">10<tspan font-size="26.2" dy="-14.2" dx="0.2">5</tspan></text>
<text x="819.2" y="847.7" font-size="37.2" text-anchor="middle">Observed <tspan font-style="oblique">λ</tspan> (<tspan font-style="oblique">μ</tspan>m)</text>
<text transform="translate(29,373) rotate(-90)" font-size="37.4" text-anchor="middle">S<tspan font-style="oblique" font-size="26.2" dy="6" dx="0.3">ν</tspan><tspan dy="-6" dx="0.8"> (mJy)</tspan></text>
<path d="M1151.0,30.0 L1199.3,30.0" stroke="#FFD700" stroke-width="3.8" fill="none"/>
<path d="M1152.9,62.7 L1197.7,62.7" stroke="#0d75f8" stroke-width="3.8" fill="none" stroke-dasharray="14 5.7"/>
<path d="M1151.0,95.4 L1199.3,95.4" stroke="#b4c7e3" stroke-width="3.8" fill="none"/>
<path d="M1151.0,128.1 L1199.3,128.1" stroke="#fb3f1c" stroke-width="3.8" fill="none"/>
<path d="M1151.0,160.8 L1199.3,160.8" stroke="#ffae6a" stroke-width="3.8" fill="none"/>
<path d="M1151.0,193.5 L1199.3,193.5" stroke="#a3cffc" stroke-width="3.8" fill="none"/>
<path d="M1150.1,226.3 L1200.0,226.3" stroke="#000" stroke-width="5.2" fill="none"/>
<circle cx="1175.2" cy="261.1" r="7.1" fill="#f82843"/>
<circle cx="1175.2" cy="292.2" r="15.4" fill="#d9edf2" stroke="#07696b" stroke-width="3.7"/>
<path d="M1175.2,281.2 L1175.2,303.2" stroke="#cfe4ea" stroke-width="3"/>
<path d="M1160.2,309.4 L1190.2,309.4 L1175.2,339.4Z" fill="#d3fdfd" stroke="#4a0d3f" stroke-width="3.8" stroke-linejoin="miter"/>
<text x="1214.8" y="38.5" font-size="22.3">Stellar attenuated</text>
<text x="1214.8" y="71.2" font-size="22.3">Stellar unattenuated</text>
<text x="1214.8" y="103.8" font-size="22.3">Nebular emission</text>
<text x="1214.8" y="136.5" font-size="22.3">Dust emission</text>
<text x="1214.8" y="169.2" font-size="22.3">AGN emission</text>
<text x="1214.8" y="201.9" font-size="22.3">Radio nonthermal</text>
<text x="1214.8" y="234.5" font-size="22.3">Model spectrum</text>
<text x="1214.8" y="267.2" font-size="22.3">Model fluxes</text>
<text x="1214.8" y="299.9" font-size="22.3">Observed fluxes</text>
<text x="1214.8" y="332.5" font-size="22.3">Observed upper limits</text>
</svg>
</body></html>
